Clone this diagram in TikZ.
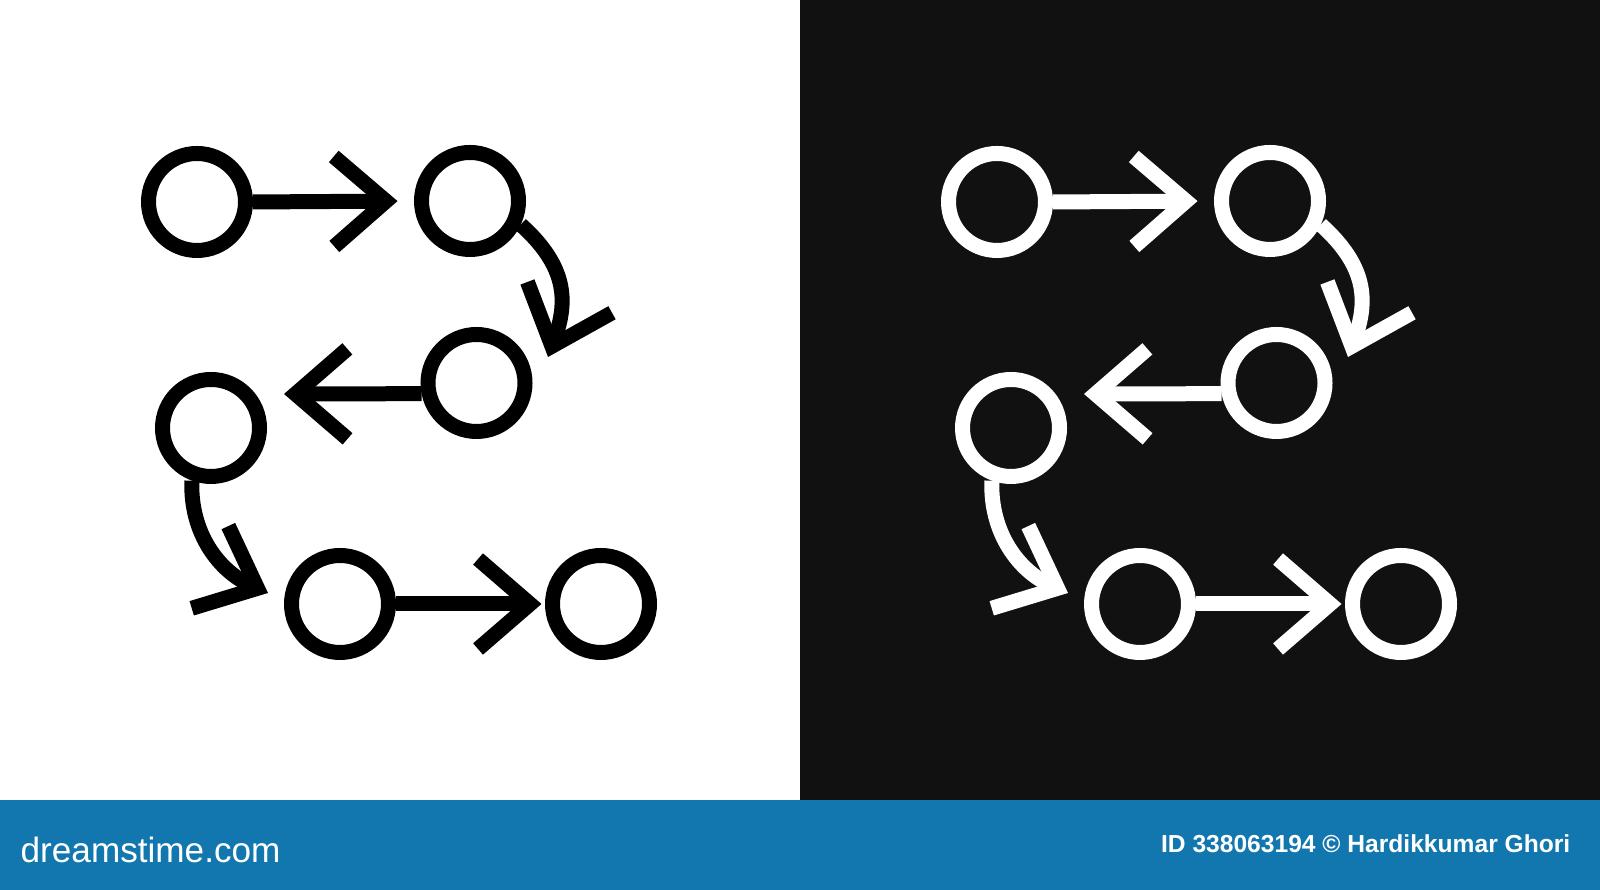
\documentclass[tikz,border=0pt]{standalone}
\usepackage{fontspec}
\setmainfont{Liberation Sans}
\usetikzlibrary{arrows.meta, positioning}
\definecolor{panelbg}{HTML}{111111}
\definecolor{barblue}{HTML}{1177AE}

\tikzset{
  stepnode/.style={draw, circle, line width=0.15cm, minimum size=0.97cm, inner sep=0pt},
  flow/.style={line width=0.15cm, -{Straight Barb[sharp, length=0.52cm, width=0.9cm]}},
}

\begin{document}
\begin{tikzpicture}
  \useasboundingbox (0,0) rectangle (16,8.9);
  \fill[white] (0,0.9) rectangle (8,8.9);
  \fill[panelbg] (8,0.9) rectangle (16,8.9);
  \fill[barblue] (0,0) rectangle (16,0.9);

  % same path twice: dark on white, light on black
  \foreach \sx/\ink/\p in {0/black/L, 8/white/R} {
    \begin{scope}[xshift=\sx cm, \ink]
      \node[stepnode] (\p1) at (1.97, 6.88) {};
      \node[stepnode] (\p2) at (4.70, 6.89) {};
      \node[stepnode] (\p3) at (4.765, 5.07) {};
      \node[stepnode] (\p4) at (2.11, 4.62) {};
      \node[stepnode] (\p5) at (3.40, 2.86) {};
      \node[stepnode] (\p6) at (6.01, 2.86) {};

      % free arrow tips
      \coordinate (\p-t1) at (5.48, 5.33);
      \coordinate (\p-t2) at (2.84, 4.96);
      \coordinate (\p-t3) at (2.68, 2.97);

      \draw[flow, shorten >=0.165cm] (\p1.east) -- (\p2.west);
      \draw[flow] (\p2.-25) to[out=-42, in=70, looseness=1.15] (\p-t1);
      \draw[flow] (\p3.191) -- (\p-t2);
      \draw[flow] (\p4.-110) to[out=-92, in=156] (\p-t3);
      \draw[flow, shorten >=0.035cm] (\p5.east) -- (\p6.west);
    \end{scope}
  }

  % bottom bar
  \node[anchor=base west, inner sep=0pt, text=white, font=\fontsize{10pt}{12pt}\selectfont] (brand) at (0.2, 0.27) {dreamstime.com};
  \node[anchor=base east, inner sep=0pt, text=white, font=\bfseries\fontsize{7pt}{8pt}\selectfont] (credit) at (15.71, 0.37) {ID 338063194 © Hardikkumar Ghori};
\end{tikzpicture}
\end{document}
